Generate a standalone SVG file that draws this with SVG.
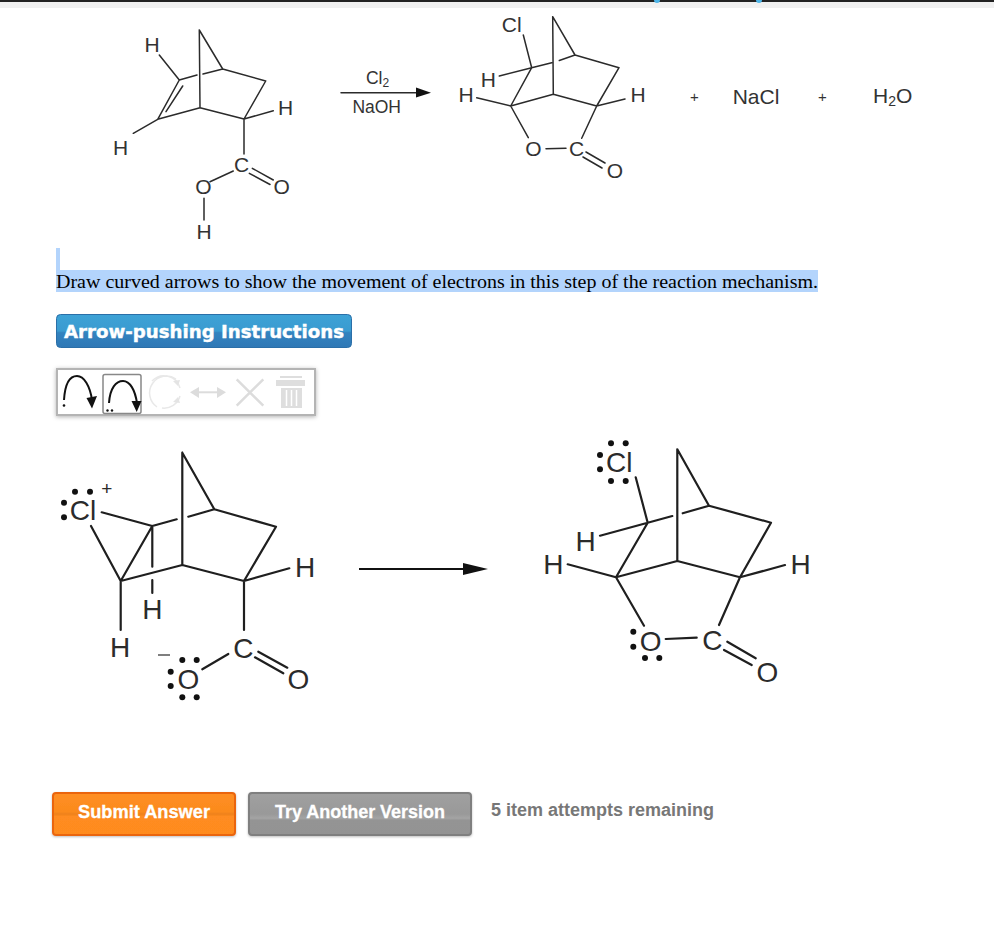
<svg xmlns="http://www.w3.org/2000/svg" width="994" height="926" viewBox="0 0 994 926">
<style>
.b{fill:none;stroke:#2b2b2b;stroke-width:1.5;stroke-linecap:round;stroke-linejoin:round}
.B{fill:none;stroke:#1f1f1f;stroke-width:2.200;stroke-linecap:round;stroke-linejoin:round}
.t{font-family:"Liberation Sans",Arial,sans-serif;font-size:21px;fill:#333;text-anchor:middle}
.T{font-family:"Liberation Sans",Arial,sans-serif;font-size:28px;fill:#2b2b2b;text-anchor:middle}
.s{font-size:17.500px}
.p{font-size:15px}
.d{fill:#111}
.g{fill:none;stroke:#e8e8e8;stroke-width:1.500}
.bt{font-family:"Liberation Sans",Arial,sans-serif;font-weight:bold;font-size:18px;fill:#fff;text-anchor:middle;stroke:#fff;stroke-width:.3}
</style>
<defs>
<linearGradient id="blue" x1="0" y1="0" x2="0" y2="1"><stop offset="0" stop-color="#3da2d6"/><stop offset="0.5" stop-color="#3a9bd0"/><stop offset="0.55" stop-color="#3383bf"/><stop offset="1" stop-color="#2f78b6"/></linearGradient>
<linearGradient id="orange" x1="0" y1="0" x2="0" y2="1"><stop offset="0" stop-color="#ff8f22"/><stop offset="0.45" stop-color="#fb8a1e"/><stop offset="0.5" stop-color="#ee8119"/><stop offset="0.56" stop-color="#ff8c20"/><stop offset="1" stop-color="#ff8b1f"/></linearGradient>
<linearGradient id="grey" x1="0" y1="0" x2="0" y2="1"><stop offset="0" stop-color="#a0a0a0"/><stop offset="0.5" stop-color="#999"/><stop offset="0.6" stop-color="#a4a4a4"/><stop offset="0.65" stop-color="#949494"/><stop offset="1" stop-color="#939393"/></linearGradient>
<filter id="sh" x="-10%" y="-20%" width="120%" height="140%"><feDropShadow dx="0" dy="1" stdDeviation="2" flood-color="#000" flood-opacity="0.3"/></filter>
<filter id="sh2" x="-10%" y="-20%" width="120%" height="140%"><feDropShadow dx="0" dy="1" stdDeviation="1" flood-color="#000" flood-opacity="0.25"/></filter>
</defs>
<rect width="994" height="926" fill="#fff"/>
<rect id="top-bar" width="994" height="2" fill="#222"/>
<rect y="2" width="994" height="6" fill="#f0f0f0"/>
<circle cx="657" cy="0" r="3" fill="#4db5e8"/><circle cx="759" cy="0" r="3" fill="#4db5e8"/>

<g id="reactant">
<path class="b" d="M199.300 30L200 107.700L244 119L265.700 81L222.700 69L199.300 30M157.700 119.300L200 107.700M157.700 119.300L179.300 80L197 75M203 74L222.700 69M166 111.700L182.700 86M244 119V154M244 119L273.300 110.700M179.300 80L159.300 55M157.700 119.300L133.300 133.300M210 181.700L233.300 171M252.300 168.300L273.300 180M249.300 173.300L270 184.500M204 198.300V220"/>
<text class="t" x="152" y="51.500">H</text><text class="t" x="120.700" y="154.500">H</text><text class="t" x="285.700" y="114.500">H</text><text class="t" x="241.700" y="171.500">C</text><text class="t" x="281.700" y="193.500">O</text><text class="t" x="203.300" y="193.500">O</text><text class="t" x="204" y="238.500">H</text>
</g>

<g id="reagents">
<path class="b" d="M341 92.700H418"/><path d="M416 87.500L431 92.700L416 97.500Z" fill="#111"/>
<text class="t s" x="377.500" y="83.500">Cl<tspan font-size="12" dy="3">2</tspan></text><text class="t s" x="376.700" y="112.500">NaOH</text>
</g>

<g id="product">
<path class="b" d="M552.700 16.700L553.300 94.300L596.700 106L619 67.700L575 55L552.700 16.700M510.700 106L553.300 94.300M510.700 106L531.700 67.700L551.700 62.700M559.300 60.500L575 55M523.300 35L531.700 67.700M499.300 76L531.700 67.700M476.700 97.700L510.700 106M625 99L596.700 106M510.700 106L528.300 137.700M596.700 106L581.700 138.300M546 148.700L566 148.300M586 152L605 163M583 157L602 168"/>
<text class="t" x="511.700" y="31.500">Cl</text><text class="t" x="488.300" y="86.500">H</text><text class="t" x="466" y="101.500">H</text><text class="t" x="638" y="101.500">H</text><text class="t" x="533.300" y="155.500">O</text><text class="t" x="576.700" y="155.500">C</text><text class="t" x="615" y="177.500">O</text>
</g>
<g id="byproducts">
<text class="t p" x="694.300" y="102">+</text><text class="t" x="756" y="103.500">NaCl</text><text class="t p" x="822.300" y="102">+</text>
<text class="t" x="892.700" y="102.500">H<tspan font-size="14" dy="3">2</tspan><tspan dy="-3">O</tspan></text>
</g>

<g id="question">
<rect x="56" y="248" width="4" height="22" fill="#b3d4fc"/><rect x="56" y="270" width="762" height="22" fill="#b3d4fc"/>
<text x="56" y="288" font-family="'Liberation Serif','Times New Roman',serif" font-size="18" fill="#000" textLength="762" lengthAdjust="spacingAndGlyphs">Draw curved arrows to show the movement of electrons in this step of the reaction mechanism.</text>
</g>

<g id="instructions-button">
<rect x="56.500" y="314.500" width="295" height="33" rx="4" fill="url(#blue)" stroke="#2b6fa8"/>
<text x="204" y="338" font-family="'DejaVu Sans',Verdana,sans-serif" font-weight="bold" font-size="17" fill="#fff" stroke="#fff" stroke-width=".4" text-anchor="middle" textLength="280" lengthAdjust="spacingAndGlyphs">Arrow-pushing Instructions</text>
</g>

<g id="toolbar">
<rect x="57" y="369" width="258" height="46" fill="#fff" stroke="#b4b4b4" stroke-width="2" filter="url(#sh)"/>
<path d="M64 400C65 384 70 376 77 376C84 376 90 386 92 400" fill="none" stroke="#111" stroke-width="2"/>
<path d="M86.500 398L97 396L92 408.500Z" fill="#111"/><circle cx="64" cy="405.500" r="1.300" fill="#111"/>
<rect x="103" y="374.500" width="38" height="39" rx="2" fill="#fff" stroke="#888" stroke-width="1.500"/>
<path d="M109 403C110 388 116 381 123 381C130 381 135 390 137 403" fill="none" stroke="#111" stroke-width="2"/>
<path d="M131.500 401L141.500 401L136.700 412Z" fill="#111"/><circle cx="107.500" cy="410.500" r="1.200" fill="#111"/><circle cx="112" cy="410.500" r="1.200" fill="#111"/>
<path class="g" d="M176 379A16.500 16.500 0 1 0 157 407M152 381A16.500 16.500 0 0 1 180 388M180 396A16.500 16.500 0 0 1 162 408"/>
<path d="M173 381L180 380L178 386ZM173 402L180 403L178 397Z" fill="#e4e4e4"/>
<path d="M198 392.300H217" stroke="#dcdcdc" stroke-width="2"/><path d="M190 392.300L199 387V398ZM226 392.300L217 387V398Z" fill="#dcdcdc"/>
<path d="M236.700 379.300L263.300 405.700M263.300 379.300L236.700 405.700" stroke="#dcdcdc" stroke-width="2.500"/>
<path d="M280 376h22v2h-22zM276 380h29v6h-29zM281 388h21v20h-21z" fill="#dedede"/>
<path d="M286.500 390v16M291.500 390v16M296.500 390v16" stroke="#fff" stroke-width="1.500"/>
</g>

<g id="reactant-2">
<path class="B" d="M182.300 452.700V565L244 581L276 526.700L214.300 509.300L182.300 452.700M120.700 581L182.300 565M120.700 581L152.300 526L176.700 519.300M188.300 516.700L214.300 509.300M101.700 512.300L152.300 526M91 526L120.700 581M152.300 526V566.700M152.300 580V593M120.700 581V630M244 581L289.300 568.300M244 581V630M202.300 669.300L228.300 654M258.300 651.700L287.300 667.700M255 657.300L283.300 673.300"/>
<text class="T" x="83" y="520">Cl</text><text class="T" x="106.700" y="495" style="font-size:19px">+</text>
<text class="T" x="152.300" y="619">H</text><text class="T" x="120" y="657">H</text><text class="T" x="305" y="577.300">H</text><text class="T" x="243.300" y="658">C</text><text class="T" x="298.300" y="689">O</text><text class="T" x="188.300" y="689">O</text>
<path d="M158 655H170" stroke="#555" stroke-width="1.500"/>
<g class="d"><circle cx="75" cy="491.700" r="3"/><circle cx="90" cy="491.700" r="3"/><circle cx="64" cy="502.700" r="3"/><circle cx="64" cy="517.300" r="3"/><circle cx="182.300" cy="660" r="3"/><circle cx="196.700" cy="660" r="3"/><circle cx="170.700" cy="671.700" r="3"/><circle cx="170.700" cy="686" r="3"/><circle cx="182.300" cy="697.300" r="3"/><circle cx="196.700" cy="697.300" r="3"/></g>
</g>

<g id="mechanism-arrow">
<path d="M359 569H466" stroke="#111" stroke-width="2"/><path d="M463 563L488 569L463 575Z" fill="#111"/>
</g>

<g id="product-2">
<path class="B" d="M677.300 449.300V561L740 577.300L771 522.700L709 505.700L677.300 449.300M616 577.300L677.300 561M616 577.300L647.700 522.700L672.300 516M682.700 513.300L709 505.700M635.700 477.300L647.700 522.700M600 535.700L647.700 522.700M567.700 564.300L616 577.300M785 565L740 577.300M616 577.300L644 625.700M740 577.300L719 625M665.700 639L696.700 637.700M727.300 641.700L755.700 658.300M724 650L751.700 665"/>
<text class="T" x="619.300" y="472">Cl</text><text class="T" x="585.700" y="551">H</text><text class="T" x="553.300" y="573.500">H</text><text class="T" x="800.700" y="573.500">H</text><text class="T" x="650.700" y="650.500">O</text><text class="T" x="712.300" y="650">C</text><text class="T" x="767.300" y="681.500">O</text>
<g class="d"><circle cx="611" cy="443.300" r="3"/><circle cx="625.700" cy="443.300" r="3"/><circle cx="600" cy="455" r="3"/><circle cx="600" cy="469.300" r="3"/><circle cx="611" cy="481" r="3"/><circle cx="625.700" cy="481" r="3"/><circle cx="633.300" cy="631.700" r="3"/><circle cx="633.300" cy="646.700" r="3"/><circle cx="645" cy="658" r="3"/><circle cx="659.300" cy="658" r="3"/></g>
</g>

<g id="submit-button">
<rect x="53" y="793" width="182" height="42" rx="3" fill="url(#orange)" stroke="#ea6510" stroke-width="2" filter="url(#sh2)"/>
<text class="bt" x="144" y="818" textLength="132" lengthAdjust="spacingAndGlyphs">Submit Answer</text>
</g>
<g id="try-button">
<rect x="249" y="793" width="222" height="42" rx="3" fill="url(#grey)" stroke="#7f7f7f" stroke-width="2" filter="url(#sh2)"/>
<text class="bt" x="360" y="818" textLength="170" lengthAdjust="spacingAndGlyphs">Try Another Version</text>
</g>
<text id="attempts" x="491" y="816" font-family="'Liberation Sans',Arial,sans-serif" font-weight="bold" font-size="18" fill="#777" textLength="223" lengthAdjust="spacingAndGlyphs">5 item attempts remaining</text>
</svg>
